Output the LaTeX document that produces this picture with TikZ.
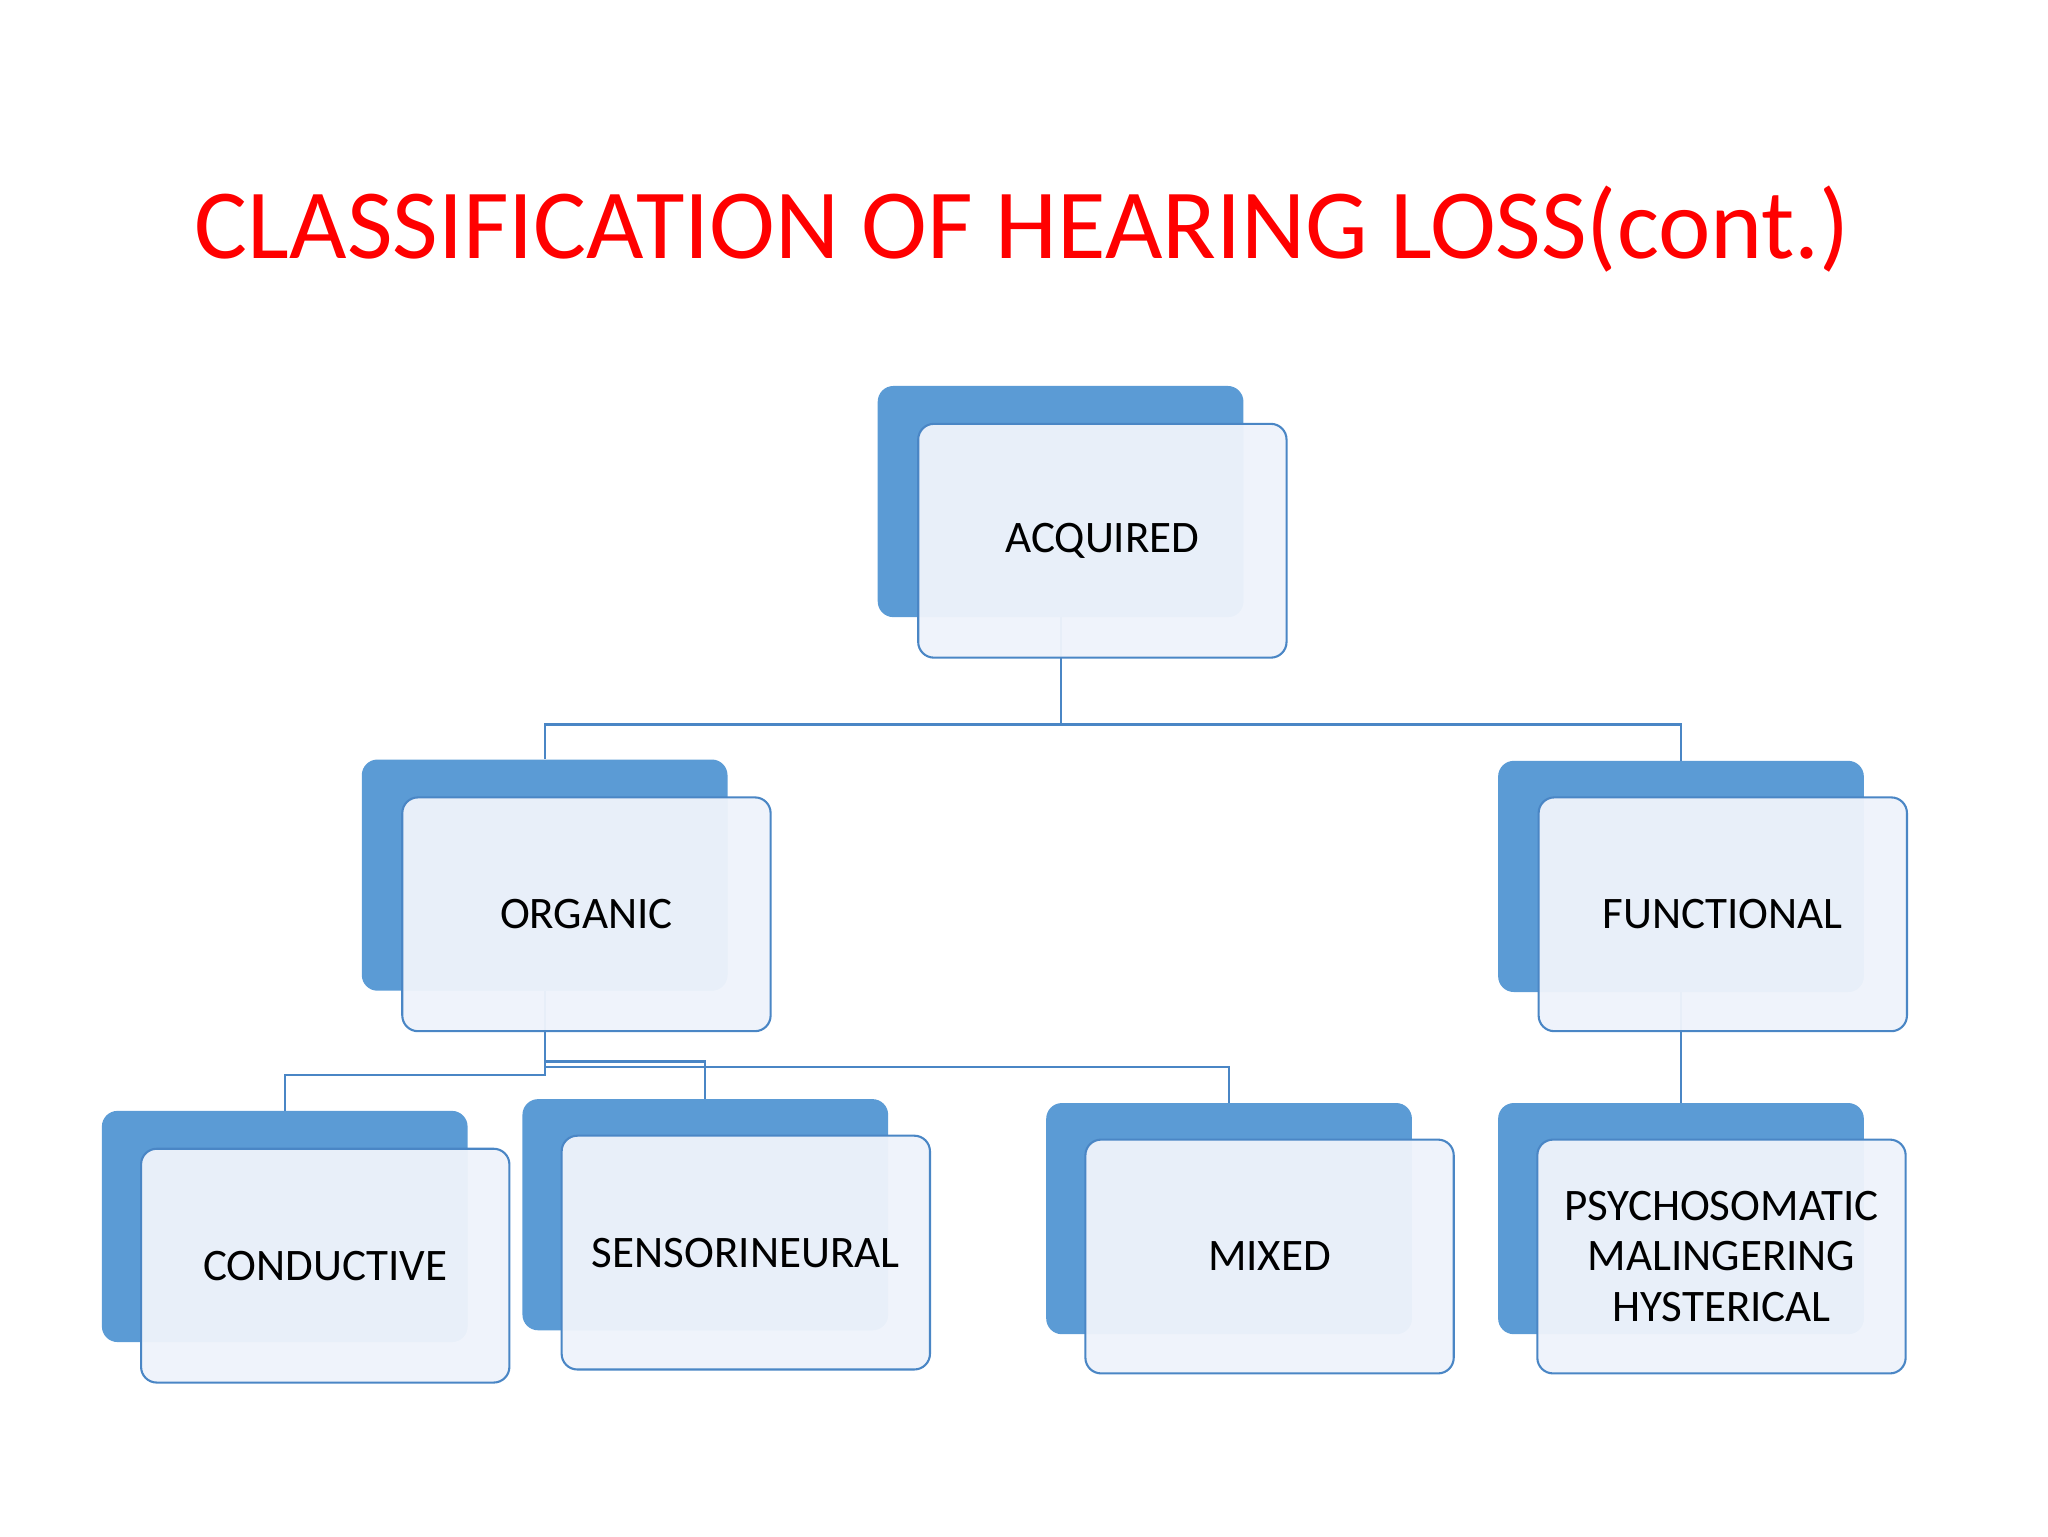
\documentclass[tikz,border=0pt]{standalone}
\usepackage{fontspec}
\setmainfont{Carlito}
\definecolor{bk}{HTML}{5B9BD5}
\definecolor{fr}{HTML}{EEF3FB}
\definecolor{ln}{HTML}{4A86C5}
\begin{document}
\begin{tikzpicture}[x=1pt,y=-1pt,
 back/.style={fill=bk,rounded corners=12pt,minimum width=280pt,minimum height=177pt,inner sep=0pt},
 front/.style={fill=fr,fill opacity=0.96,text opacity=1,draw=ln,line width=1.6pt,rounded corners=12pt,minimum width=282pt,minimum height=179pt,inner sep=0pt,font=\fontsize{34.5}{39}\selectfont,align=center},
 conn/.style={draw=ln,line width=1.6pt}]
\useasboundingbox (0,0) rectangle (1568,1176);
\node[text=red,font=\fontsize{76}{88}\selectfont] (title) at (783,175) {CLASSIFICATION OF HEARING LOSS(cont.)};
\node[back] (acqb) at (812,384) {};
\node[back] (orgb) at (417,670) {};
\node[back] (funb) at (1287,671) {};
\node[back] (conb) at (218,939) {};
\node[back] (senb) at (540,930) {};
\node[back] (mixb) at (941,933) {};
\node[back] (psyb) at (1287,933) {};
\draw[conn] (acqb.south) -- ++(0,82) -| (orgb.north);
\draw[conn] (acqb.south) -- ++(0,82) -| (funb.north);
\draw[conn] (orgb.south) -- ++(0,64) -| (conb.north);
\draw[conn] (orgb.south) -- ++(0,54) -| (senb.north);
\draw[conn] (orgb.south) -- ++(0,58) -| (mixb.north);
\draw[conn] (funb.south) -- (psyb.north);
\node[front] (acq) at (844,414) {ACQUIRED};
\node[front] (org) at (449,700) {ORGANIC};
\node[front] (fun) at (1319,700) {FUNCTIONAL};
\node[front] (con) at (249,969) {CONDUCTIVE};
\node[front] (sen) at (571,959) {SENSORINEURAL};
\node[front] (mix) at (972,962) {MIXED};
\node[front] (psy) at (1318,962) {PSYCHOSOMATIC\\MALINGERING\\HYSTERICAL};
\end{tikzpicture}
\end{document}
